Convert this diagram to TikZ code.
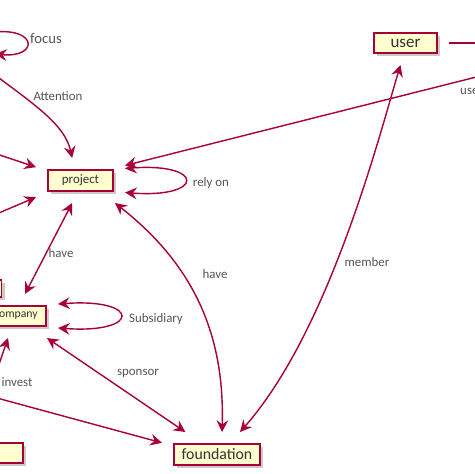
\documentclass[tikz,border=0pt]{standalone}
\usepackage{fontspec}
\setmainfont{Carlito}
\usetikzlibrary{arrows.meta,shadows}
\definecolor{umlred}{RGB}{168,0,54}
\definecolor{umlfill}{RGB}{254,254,206}
\definecolor{lblgray}{RGB}{85,85,85}
\tikzset{
  entity/.style={draw=umlred, fill=umlfill, line width=1.4pt, inner sep=0pt,
    outer sep=0.36cm, text=black!80,
    drop shadow={shadow xshift=2.5pt, shadow yshift=-2.5pt, opacity=0.35, fill=black!60}},
  rel/.style={draw=umlred, line width=1.2pt,
    -{Stealth[length=10pt,width=10pt,inset=3.5pt]}},
  birel/.style={rel, {Stealth[length=10pt,width=10pt,inset=3.5pt]}-{Stealth[length=10pt,width=10pt,inset=3.5pt]}},
  lab/.style={text=lblgray, inner sep=0pt, font=\fontsize{11}{13}\selectfont},
}

\begin{document}
\begin{tikzpicture}[x=0.03cm,y=-0.03cm]
  \useasboundingbox (0,0) rectangle (474,474);

  % entities
  \node[entity, minimum width=1.95cm, minimum height=0.63cm,
    font=\fontsize{11}{13}\selectfont] (project) at (80.5,180.5) {project};
  \node[entity, minimum width=1.89cm, minimum height=0.6cm,
    font=\fontsize{14.5}{16}\selectfont] (user) at (405.5,43) {user};
  \node[entity, minimum width=1.8cm, minimum height=0.6cm,
    font=\fontsize{10}{12}\selectfont] (company) at (16,316) {company};
  \node[entity, minimum width=2.58cm, minimum height=0.63cm,
    font=\fontsize{13.5}{15}\selectfont] (foundation) at (217,454.5) {foundation};
  \node[entity, minimum width=1.8cm, minimum height=0.6cm] (watcher) at (-47,43) {};
  \node[entity, minimum width=1.9cm, minimum height=0.51cm] (holding) at (-30,288.5) {};
  \node[entity, minimum width=1.89cm, minimum height=0.6cm] (investor) at (-8.5,453) {};

  % ends outside the page
  \coordinate (leftA) at (-60,135);
  \coordinate (leftB) at (-60,238);
  \coordinate (devA) at (520,66);
  \coordinate (devB) at (520,43);
  \coordinate (fundA) at (-40,388);
  \coordinate (fundB) at (-8,385);

  % self loops
  \draw[rel] ([yshift=0.33cm]watcher.east) .. controls +(43,-4) and +(43,4) .. ([yshift=-0.33cm]watcher.east);
  \draw[birel] ([yshift=0.36cm]project.east) .. controls +(80,-6) and +(80,6) .. ([yshift=-0.36cm]project.east);
  \draw[birel] ([yshift=0.36cm]company.east) .. controls +(83,-6) and +(83,6) .. ([yshift=-0.36cm]company.east);

  % relations
  \draw[rel] ([yshift=-0.3cm]watcher.south east) .. controls (35,105) and (65,125) .. ([xshift=-0.25cm]project.north);
  \draw[rel] (leftA) -- ([yshift=0.4cm]project.west);
  \draw[rel] (leftB) -- ([yshift=-0.5cm]project.west);
  \draw[rel] (devA) -- ([yshift=0.45cm]project.east);
  \draw[umlred, line width=1.2pt] (user.east) -- (devB);
  \draw[birel] ([xshift=-0.25cm]project.south) -- ([xshift=0.27cm]company.north);
  \draw[birel] ([xshift=-0.3cm]project.south east) .. controls (190,262) and (225,330) .. ([xshift=0.15cm]foundation.north);
  \draw[birel] ([xshift=-0.15cm]user.south) .. controls (380,133) and (330,330) .. ([xshift=0.69cm]foundation.north);
  \draw[birel] ([xshift=-0.33cm]company.south east) -- ([xshift=0.7cm]foundation.north west);
  \draw[rel] (fundA) -- ([yshift=0.35cm]foundation.west);
  \draw[rel] (fundB) -- ([xshift=-0.24cm]company.south);

  % labels
  \node[lab, font=\fontsize{12.5}{14}\selectfont, anchor=west] (lfocus) at (30,39) {focus};
  \node[lab] (lattention) at (58,96) {Attention};
  \node[lab] (lrely) at (211,183) {rely on};
  \node[lab, anchor=west] (luse) at (460,91) {use};
  \node[lab] (lhaveA) at (61,253) {have};
  \node[lab] (lhaveB) at (215,274) {have};
  \node[lab] (lmember) at (367,262) {member};
  \node[lab] (lsub) at (156,319) {Subsidiary};
  \node[lab] (lsponsor) at (138,373) {sponsor};
  \node[lab] (linvest) at (17,382) {invest};
\end{tikzpicture}
\end{document}
